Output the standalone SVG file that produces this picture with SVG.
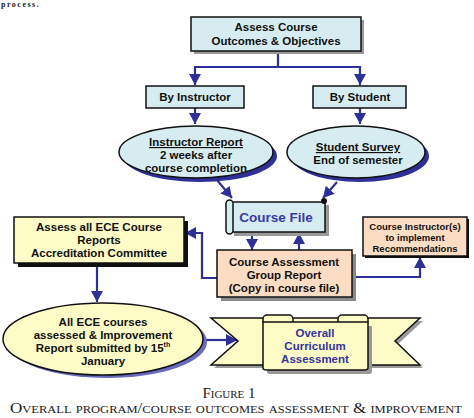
<svg xmlns="http://www.w3.org/2000/svg" width="474" height="418" viewBox="0 0 474 418">
<style>
.t{font-family:"Liberation Sans",Arial,sans-serif;font-weight:bold;font-size:11.5px;fill:#111;text-anchor:middle}
.s{font-size:9.5px}
.b{fill:#34349c}
.box{stroke:#111;stroke-width:1.5}
.blue{fill:#d6ecf0}
.yel{fill:#fdfbc6}
.pch{fill:#fcdcc2}
.con{fill:none;stroke:#2f2f98;stroke-width:2.2}
.cap{font-family:"Liberation Serif","Times New Roman",serif;font-variant:small-caps;fill:#222;text-anchor:middle}
</style>
<defs>
<marker id="ah" markerUnits="userSpaceOnUse" markerWidth="12" markerHeight="12" viewBox="0 0 12 12" refX="11" refY="6" orient="auto">
<path d="M0,0 L11,6 L0,12 Z" fill="#2f2f98"/>
</marker>
</defs>
<rect width="474" height="418" fill="#fff"/>
<text x="1" y="7" font-family="Liberation Serif,serif" font-size="8" font-weight="bold" letter-spacing="1.5" fill="#222">process.</text>

<g id="connectors">
<path class="con" d="M278,51 V67 H195 V85" marker-end="url(#ah)"/>
<path class="con" d="M278,67 H360 V85" marker-end="url(#ah)"/>
<path class="con" d="M195,108 V124" marker-end="url(#ah)"/>
<path class="con" d="M360,108 V124" marker-end="url(#ah)"/>
<path class="con" d="M217,180 L232,198" marker-end="url(#ah)"/>
<path class="con" d="M337,182 L323,198" marker-end="url(#ah)"/>
<path class="con" d="M252,233 V250" marker-end="url(#ah)"/>
<path class="con" d="M299,250 V233" marker-end="url(#ah)"/>
<path class="con" d="M352,277 H420 V257" marker-end="url(#ah)"/>
<path class="con" d="M217,278 H202 V233 H185" marker-end="url(#ah)"/>
<path class="con" d="M97,264 V302" marker-end="url(#ah)"/>
<path class="con" d="M205,340 H237" marker-end="url(#ah)"/>
</g>

<g id="assess-course">
<rect x="194" y="20" width="170" height="34" fill="#9a9a9a"/>
<rect class="box blue" x="191" y="17" width="170" height="34"/>
<text class="t" x="276" y="31">Assess Course</text>
<text class="t" x="276" y="45">Outcomes &amp; Objectives</text>
</g>

<g id="by-instructor">
<rect class="box blue" x="146" y="86" width="98" height="22"/>
<text class="t" x="195" y="101">By Instructor</text>
</g>

<g id="by-student">
<rect class="box blue" x="313" y="86" width="93" height="22"/>
<text class="t" x="360" y="101">By Student</text>
</g>

<g id="instructor-report">
<ellipse cx="200" cy="156" rx="77" ry="26" fill="#2f2f98"/>
<ellipse class="box blue" cx="196" cy="152" rx="77" ry="26"/>
<text class="t" x="196" y="146" text-decoration="underline">Instructor Report</text>
<text class="t" x="196" y="159">2 weeks after</text>
<text class="t" x="196" y="172">course completion</text>
</g>

<g id="student-survey">
<ellipse cx="360" cy="156" rx="69" ry="26" fill="#2f2f98"/>
<ellipse class="box blue" cx="356" cy="152" rx="69" ry="26"/>
<text class="t" x="358" y="151" text-decoration="underline">Student Survey</text>
<text class="t" x="358" y="164">End of semester</text>
</g>

<g id="course-file">
<rect x="234" y="205" width="95" height="31" fill="#9a9a9a"/>
<rect class="box blue" x="230" y="202" width="95" height="30"/>
<rect class="box blue" x="226" y="200" width="7" height="34" rx="3.5"/>
<circle cx="324" cy="201" r="3" fill="#111"/>
<text x="276" y="222" font-family="Liberation Sans,Arial,sans-serif" font-weight="bold" font-size="13.5" fill="#3a3aa8" text-anchor="middle">Course File</text>
</g>

<g id="assess-ece">
<rect x="18" y="221" width="170" height="46" fill="#111"/>
<rect class="box yel" x="14" y="217" width="170" height="46"/>
<text class="t" x="99" y="231">Assess all ECE Course</text>
<text class="t" x="99" y="244">Reports</text>
<text class="t" x="99" y="257">Accreditation Committee</text>
</g>

<g id="course-instructors">
<rect x="365" y="219" width="104" height="39" fill="#111"/>
<rect class="box pch" x="363" y="217" width="104" height="39"/>
<text class="t s" x="415" y="230">Course Instructor(s)</text>
<text class="t s" x="415" y="241">to implement</text>
<text class="t s" x="415" y="252">Recommendations</text>
</g>

<g id="group-report">
<rect x="221" y="254" width="135" height="47" fill="#8a8a8a"/>
<rect class="box pch" x="217" y="250" width="135" height="47"/>
<text class="t" x="284" y="266">Course Assessment</text>
<text class="t" x="284" y="279">Group Report</text>
<text class="t" x="284" y="292">(Copy in course file)</text>
</g>

<g id="all-ece">
<ellipse cx="107" cy="342" rx="100" ry="36" fill="#6a6ac0"/>
<ellipse class="box yel" cx="103" cy="339" rx="100" ry="36"/>
<text class="t" x="103" y="326">All ECE courses</text>
<text class="t" x="103" y="339">assessed &amp; Improvement</text>
<text class="t" x="103" y="352">Report submitted by 15<tspan font-size="7" dy="-5">th</tspan></text>
<text class="t" x="103" y="365">January</text>
</g>

<g id="curriculum">
<path d="M214,321 L423,321 L398,344 L423,368 L214,368 L241,344 Z" fill="#9a9a9a"/>
<path class="box yel" d="M211,318 L420,318 L395,341 L420,365 L211,365 L238,341 Z"/>
<rect class="box yel" x="263" y="315" width="30" height="10" rx="4"/>
<rect class="box yel" x="338" y="315" width="30" height="10" rx="4"/>
<path d="M267,326 H372 V372 Q372,374 368,374 H271 Q267,374 267,372 Z" fill="#9a9a9a"/>
<path class="box yel" d="M263,322 H368 V368 Q368,370 364,370 H267 Q263,370 263,368 Z"/>
<text class="t b" x="315" y="337">Overall</text>
<text class="t b" x="315" y="350">Curriculum</text>
<text class="t b" x="315" y="363">Assessment</text>
</g>

<g id="caption">
<text class="cap" x="229" y="398" font-size="15">Figure 1</text>
<text class="cap" x="236" y="413" font-size="15" textLength="452" lengthAdjust="spacingAndGlyphs">Overall program/course outcomes assessment &amp; improvement</text>
</g>
</svg>
